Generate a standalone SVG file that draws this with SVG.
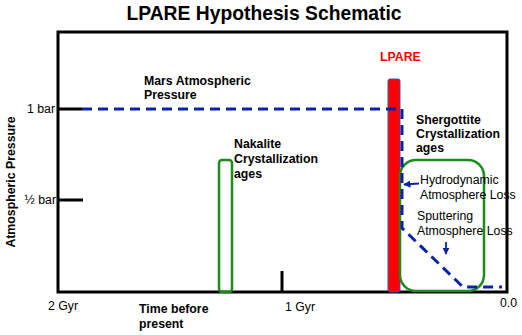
<svg xmlns="http://www.w3.org/2000/svg" width="522" height="335" viewBox="0 0 522 335">
<defs>
<style>
text{font-family:"Liberation Sans",Arial,sans-serif;font-size:12.3px;fill:#000}
.b{font-weight:bold}
.dash{fill:none;stroke:#0a22aa;stroke-width:3;stroke-dasharray:10 6}
.grn{fill:none;stroke:#1b8c1b;stroke-width:2.5}
.blk{stroke:#000;stroke-width:3;fill:none}
</style>
<marker id="ah" viewBox="0 0 10 10" refX="9" refY="5" markerWidth="4" markerHeight="4" orient="auto">
<path d="M0,0 L10,5 L0,10 z" fill="#0a22aa"/>
</marker>
</defs>
<rect width="522" height="335" fill="#fff"/>
<text class="b" x="264" y="20" text-anchor="middle" style="font-size:19.3px">LPARE Hypothesis Schematic</text>
<g id="frame">
<rect class="blk" x="58" y="32" width="449" height="260"/>
<line class="blk" x1="58" y1="109" x2="82" y2="109"/>
<line class="blk" x1="58" y1="200" x2="83" y2="200"/>
<line class="blk" x1="282" y1="271" x2="282" y2="292"/>
</g>
<g id="axis-labels">
<text x="55" y="113" text-anchor="end">1 bar</text>
<text x="56" y="204" text-anchor="end">½  bar</text>
<text class="b" transform="translate(15,182) rotate(-90)" text-anchor="middle">Atmospheric Pressure</text>
<text x="48" y="310">2 Gyr</text>
<text x="285" y="311">1 Gyr</text>
<text x="500" y="307">0.0</text>
<text class="b" x="139" y="313">Time before</text>
<text class="b" x="139" y="328">present</text>
</g>
<g id="nakalite">
<rect class="grn" x="219" y="160" width="13" height="132" rx="3"/>
<text class="b" x="234" y="148">Nakalite</text>
<text class="b" x="234" y="163">Crystallization</text>
<text class="b" x="234" y="178">ages</text>
</g>
<g id="lpare">
<rect x="388" y="79" width="12" height="213" rx="2" fill="#ff0000" stroke="#3355bb" stroke-width="1"/>
<text class="b" x="380" y="61" fill="#ff0000" style="fill:#ff0000">LPARE</text>
</g>
<g id="shergottite">
<rect class="grn" x="400" y="160" width="84" height="131" rx="16"/>
<text class="b" x="416" y="124">Shergottite</text>
<text class="b" x="416" y="138">Crystallization</text>
<text class="b" x="416" y="152">ages</text>
</g>
<g id="connectors">
<path class="dash" d="M82,109 H400 M402,109 V228 L463,287 H502"/>
<line x1="419" y1="183.5" x2="404" y2="184.5" stroke="#0a22aa" stroke-width="1.8" marker-end="url(#ah)"/>
<line x1="446" y1="242" x2="446" y2="254" stroke="#0a22aa" stroke-width="1.8" marker-end="url(#ah)"/>
</g>
<g id="pressure-label">
<text class="b" x="144" y="85">Mars Atmospheric</text>
<text class="b" x="144" y="99">Pressure</text>
</g>
<g id="loss-labels">
<text x="420" y="184">Hydrodynamic</text>
<text x="420" y="199">Atmosphere Loss</text>
<text x="417" y="220">Sputtering</text>
<text x="417" y="235">Atmosphere Loss</text>
</g>
</svg>
